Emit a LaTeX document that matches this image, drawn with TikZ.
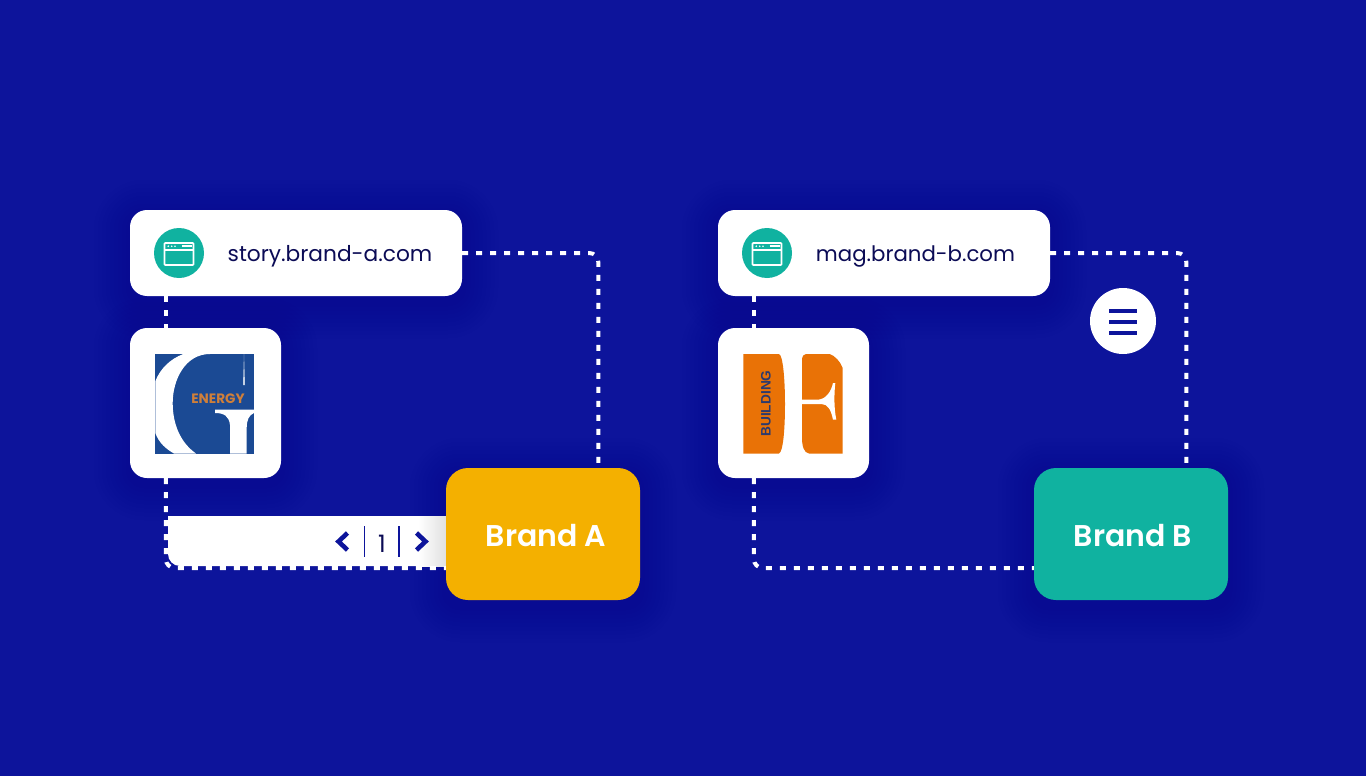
\documentclass[tikz,border=0pt]{standalone}
\usepackage{fontspec}
\setmainfont{Poppins}
\newfontfamily\brandfont{Poppins SemiBold}
\newfontfamily\logofont{Liberation Sans}
\usetikzlibrary{calc}
\definecolor{bgblue}{HTML}{0D149B}
\definecolor{shadeblue}{HTML}{080A5C}
\definecolor{navy}{HTML}{0B0B55}
\definecolor{teal}{HTML}{10B2A0}
\definecolor{amber}{HTML}{F4B000}
\definecolor{logoblue}{HTML}{1B4A94}
\definecolor{logoorange}{HTML}{E97206}
\definecolor{energyorange}{HTML}{CF7F3A}
\definecolor{buildingblue}{HTML}{2B3A6E}
\tikzset{
  urlbox/.style={fill=white,rounded corners=17pt,minimum width=332pt,minimum height=86pt,inner sep=0pt},
  logobox/.style={fill=white,rounded corners=17pt,minimum width=151pt,minimum height=150pt,inner sep=0pt},
  brandbox/.style={rounded corners=22pt,minimum width=194pt,minimum height=132pt,inner sep=0pt},
  brandtext/.style={inner sep=0pt,text=white,font=\fontsize{30}{34}\brandfont},
  urltext/.style={inner sep=0pt,text=navy,font=\fontsize{21.7}{26}\selectfont},
  iconcircle/.style={circle,fill=teal,minimum size=50pt,inner sep=0pt},
  dotline/.style={draw=white,line width=4pt,dash pattern=on 6pt off 8pt,rounded corners=9pt},
  iconline/.style={draw=white,line width=1.7pt},
  pagerline/.style={draw=bgblue,line width=4.6pt},
  softshadow/.style={fill=shadeblue,opacity=0.016}
}
\newcommand{\softbox}[4]{%
  \foreach \s in {4,8,...,36}
    \fill[softshadow,rounded corners=\s pt+14pt] (#1-\s,#2-\s+6) rectangle (#3+\s,#4+\s+6);
}
\newcommand{\webicon}[1]{%
  \draw[iconline,rounded corners=0.8pt] ($(#1)+(-14.5,-10)$) rectangle ($(#1)+(14.5,12)$);
  \draw[iconline] ($(#1)+(-14.5,-3)$) -- ($(#1)+(14.5,-3)$);
  \draw[iconline,line width=2.4pt] ($(#1)+(2.7,-6.8)$) -- ($(#1)+(12.7,-6.8)$);
  \foreach \d in {-10.7,-7.3,-4}
    \fill[white] ($(#1)+(\d,-6.8)$) circle (0.9);
}
\begin{document}
\begin{tikzpicture}[x=1pt,y=-1pt]
  \useasboundingbox (0,0) rectangle (1366,776);
  \fill[bgblue] (0,0) rectangle (1366,776);
  % shadows
  \softbox{130}{210}{462}{296}
  \softbox{130}{328}{281}{478}
  \softbox{446}{468}{640}{600}
  \softbox{718}{210}{1050}{296}
  \softbox{718}{328}{869}{478}
  \softbox{1034}{468}{1228}{600}
  % pager bar
  \fill[white,rounded corners=12pt] (168,516) -- (168,566) -- (446,566) -- (446,516) [sharp corners] -- cycle;
  \fill[left color=white,right color=black!12,draw=none] (418,516) rectangle (446,566);
  % left card
  \node[urlbox] (urla) at (296,253) {};
  \node[logobox] (logoa) at (205.5,403) {};
  \node[brandbox,fill=amber] (branda) at (543,534) {};
  \node[brandtext] (labela) at (546,536) {Brand A};
  \node[iconcircle] (icona) at (179,253) {};
  \webicon{icona}
  \node[urltext] (texta) at (330,256) {story.brand-a.com};
  \draw[dotline] (urla.east) -| (branda.north -| 598.3,0);
  \draw[dotline] ([xshift=36pt]urla.south west) -- ([xshift=36pt]logoa.north west);
  \draw[dotline] ([xshift=36pt]logoa.south west) |- (branda.west |- 0,568);
  % G logo
  \fill[logoblue] (155.3,354) rectangle (254,453.5);
  \fill[white] (183.3,354) .. controls (170,359) and (160,369) .. (155.3,381.3)
    -- (155.3,433) .. controls (159,443) and (166,449) .. (174,453.5)
    -- (196,453.5) .. controls (181,443) and (172.7,425) .. (172.7,403)
    .. controls (172.7,380) and (185,354) .. (210,354) -- cycle;
  \fill[white,opacity=0.75] (244,354) -- (243,385) -- (245,385) -- cycle;
  \fill[white] (215,409.7) -- (254,409.7) -- (254,413) .. controls (249,415) and (246.7,420) .. (246.7,428)
    -- (246.7,453.5) -- (230,453.5) -- (230,425) .. controls (229,416) and (224,413) .. (215,413) -- cycle;
  \node[inner sep=0pt,text=energyorange,font=\fontsize{13.6}{16}\selectfont\bfseries] (energy) at (218,399) {ENERGY};
  % pager
  \draw[pagerline] (347.5,533) -- (338.5,541.5) -- (347.5,550);
  \draw[pagerline] (416.5,533) -- (425.5,541.5) -- (416.5,550);
  \draw[bgblue,line width=1.9pt] (364.5,526) -- (364.5,557);
  \draw[bgblue,line width=1.9pt] (399,526) -- (399,557);
  \node[inner sep=0pt,text=navy,font=\fontsize{24}{28}\selectfont] (pagenum) at (382,544) {1};
  % right card
  \node[urlbox] (urlb) at (884,253) {};
  \node[logobox] (logob) at (793.5,403) {};
  \node[brandbox,fill=teal] (brandb) at (1131,534) {};
  \node[brandtext] (labelb) at (1133,536) {Brand B};
  \node[iconcircle] (iconb) at (767,253) {};
  \webicon{iconb}
  \node[urltext,font=\fontsize{21.3}{26}\selectfont] (textb) at (915.5,256) {mag.brand-b.com};
  \draw[dotline] (urlb.east) -| (brandb.north -| 1186.3,0);
  \draw[dotline] ([xshift=36pt]urlb.south west) -- ([xshift=36pt]logob.north west);
  \draw[dotline] ([xshift=36pt]logob.south west) |- (brandb.west |- 0,568);
  % menu
  \node[circle,fill=white,minimum size=66pt,inner sep=0pt] (menu) at (1123,321) {};
  \foreach \d in {-10,1,12}
    \fill[bgblue] ($(menu)+(-14,\d-2)$) rectangle ($(menu)+(14,\d+2)$);
  % H logo
  \fill[logoorange] (743.3,354) -- (779,354) .. controls (783,355) and (785,380) .. (785,404)
    .. controls (785,430) and (783,452) .. (779,453.5) -- (743.3,453.5) -- cycle;
  \fill[logoorange] (806,354) -- (829.7,354) .. controls (835,356) and (840,361) .. (842.7,368)
    -- (842.7,453.5) -- (809,453.5) .. controls (804,453) and (802,446) .. (802,438)
    -- (802,360) .. controls (802,356) and (804,354) .. (806,354) -- cycle;
  \fill[white] (802,399.7) -- (818,399.7) .. controls (826,399) and (831,392) .. (833,383)
    -- (835.3,383) .. controls (834,395) and (834,408) .. (836.3,419.7)
    -- (833,419.7) .. controls (831,410) and (828,404) .. (821.3,404) -- (802,404) -- cycle;
  \node[rotate=90,inner sep=0pt,text=buildingblue,font=\fontsize{13.7}{16}\logofont\bfseries] (building) at (766,403.5) {BUILDING};
\end{tikzpicture}
\end{document}
